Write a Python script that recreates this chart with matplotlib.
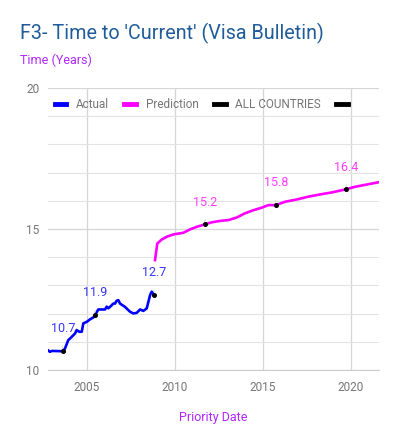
import matplotlib
matplotlib.use("Agg")
import matplotlib.pyplot as plt
from matplotlib.ticker import MultipleLocator

plt.rcParams["font.family"] = ["Roboto", "DejaVu Sans"]

# actual wait times (priority date in fractional years, time in years)
actual_x = [2002.73, 2002.91, 2003.03, 2003.64, 2003.77, 2003.95, 2004.15, 2004.34,
            2004.43, 2004.58, 2004.72, 2004.81, 2005.0, 2005.19, 2005.38, 2005.47,
            2005.66, 2006.04, 2006.14, 2006.23, 2006.42, 2006.51, 2006.61, 2006.70,
            2006.80, 2006.89, 2007.18, 2007.46, 2007.65, 2007.84, 2008.03, 2008.22,
            2008.41, 2008.60, 2008.69, 2008.82]
actual_y = [10.74, 10.65, 10.68, 10.67, 10.77, 11.06, 11.18, 11.30,
            11.42, 11.36, 11.36, 11.66, 11.71, 11.80, 11.87, 11.95,
            12.15, 12.15, 12.25, 12.19, 12.30, 12.36, 12.36, 12.46,
            12.48, 12.36, 12.24, 12.07, 12.01, 12.03, 12.15, 12.10,
            12.19, 12.66, 12.78, 12.68]

# predicted wait times
pred_x = [2008.88, 2009.01, 2009.26, 2009.55, 2009.92, 2010.49, 2010.87, 2011.25,
          2011.72, 2012.10, 2012.57, 2013.05, 2013.52, 2013.99, 2014.47, 2014.94,
          2015.32, 2015.74, 2016.27, 2016.93, 2017.59, 2018.26, 2018.92, 2019.73,
          2020.24, 2020.91, 2021.57]
pred_y = [13.90, 14.49, 14.63, 14.73, 14.81, 14.87, 14.99, 15.08,
          15.17, 15.24, 15.29, 15.32, 15.41, 15.56, 15.67, 15.76,
          15.85, 15.85, 15.97, 16.05, 16.15, 16.23, 16.30, 16.41,
          16.50, 16.58, 16.66]

# all-countries annotated points
pts_x = [2003.64, 2005.47, 2008.82, 2011.72, 2015.74, 2019.73]
pts_y = [10.67, 11.95, 12.68, 15.17, 15.85, 16.41]
pts_labels = ["10.7", "11.9", "12.7", "15.2", "15.8", "16.4"]
pts_colors = ["#3535ff", "#3535ff", "#3535ff", "#ff3cff", "#ff3cff", "#ff3cff"]

fig = plt.figure(figsize=(4.0, 4.47), dpi=100)
ax = fig.add_axes([0.119, 0.172, 0.829, 0.631])

ax.plot(actual_x, actual_y, color="#0000ff", lw=1.9, label="Actual", zorder=3)
ax.plot(pred_x, pred_y, color="#ff00ff", lw=1.9, label="Prediction", zorder=3)
ax.plot(pts_x, pts_y, "o", color="black", ms=2.6, label="ALL COUNTRIES", zorder=4)
ax.plot([], [], color="black", lw=3.5, label=" ")

for x, y, t, c in zip(pts_x, pts_y, pts_labels, pts_colors):
    ax.annotate(t, (x, y), xytext=(0, 16), textcoords="offset points",
                ha="center", va="center", color=c, fontsize=9,
                arrowprops=dict(arrowstyle="-", color="#d0d0d0", lw=0.7,
                                shrinkA=6, shrinkB=2))

ax.set_xlim(2002.78, 2021.61)
ax.set_ylim(10, 20)
ax.set_xticks([2005, 2010, 2015, 2020])
ax.set_yticks([10, 15, 20])
ax.yaxis.set_minor_locator(MultipleLocator(1))
ax.grid(which="major", color="#d6d6d6", lw=0.9)
ax.grid(which="minor", axis="y", color="#e3e3e3", lw=0.8)
ax.set_axisbelow(True)
for s in ["top", "right", "left"]:
    ax.spines[s].set_visible(False)
ax.spines["bottom"].set_color("#cccccc")
ax.tick_params(which="both", length=0, labelsize=8.5, colors="#757575", pad=6)
ax.tick_params(axis="x", pad=8)

leg = ax.legend(loc="upper left", bbox_to_anchor=(0.0, 0.99), ncol=4, frameon=False,
                fontsize=8.5, handlelength=1.0, handletextpad=0.8, columnspacing=1.3,
                labelcolor="#757575", borderaxespad=0.2)
for h in leg.legend_handles:
    h.set_linewidth(3.5)
    h.set_marker("")
    h.set_linestyle("-")

fig.text(0.05, 0.925, "F3- Time to 'Current' (Visa Bulletin)", fontsize=14.2,
         color="#1f5c99", va="center", ha="left")
fig.text(0.05, 0.864, "Time (Years)", fontsize=9, color="#b026ff",
         va="center", ha="left")
fig.text(0.533, 0.065, "Priority Date", fontsize=9, color="#b026ff",
         va="center", ha="center")

fig.savefig("out.png", dpi=100)
